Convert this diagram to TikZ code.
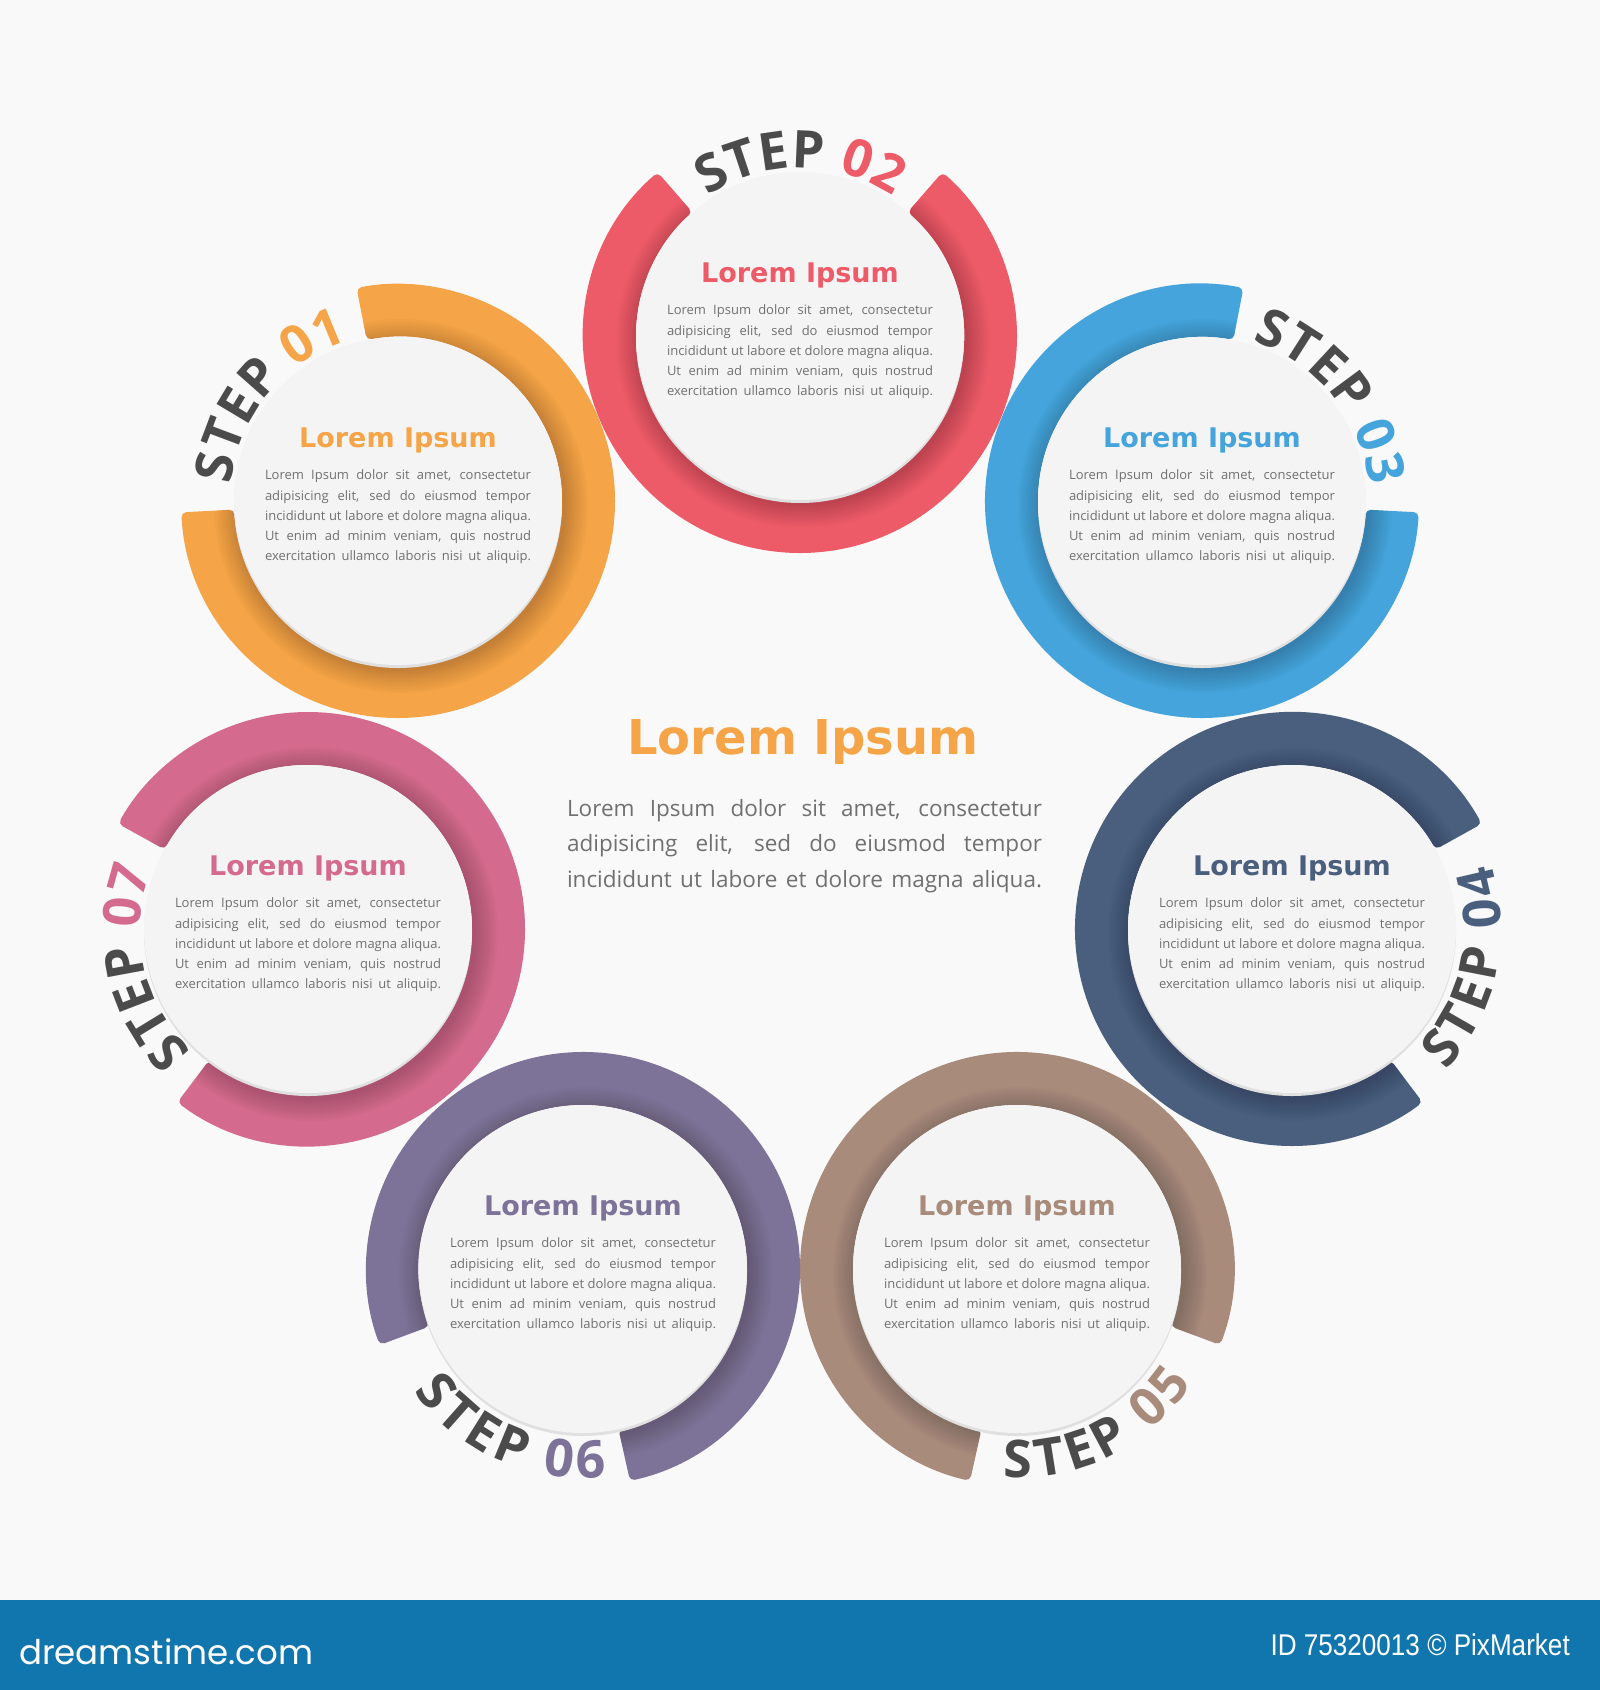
\documentclass[tikz,border=0pt]{standalone}
\usepackage{fontspec}
\setmainfont{Open Sans}
\newfontfamily\headfam{DejaVu Sans}
\newfontfamily\stepfam{Open Sans}
\newfontfamily\banfam{Liberation Sans}
\newfontfamily\logofam{Poppins}
\usetikzlibrary{calc,decorations.text}
\definecolor{bgc}{HTML}{F9F9F9}
\definecolor{diskc}{HTML}{F4F4F4}
\definecolor{stepgray}{HTML}{4B4B4B}
\definecolor{bodygray}{HTML}{707070}
\definecolor{banblue}{HTML}{1176AE}
\definecolor{cOrange}{HTML}{F5A447}
\definecolor{cRed}{HTML}{EE5B68}
\definecolor{cBlue}{HTML}{45A4DB}
\definecolor{cNavy}{HTML}{4A5F7D}
\definecolor{cBrown}{HTML}{A88B7B}
\definecolor{cPurple}{HTML}{7D7399}
\definecolor{cPink}{HTML}{D46A8D}
\newcommand\stepfmt{\stepfam\bfseries\fontsize{52}{60}\selectfont}
\newcommand\bodylines{%
\makebox[266pt][s]{Lorem Ipsum dolor sit amet, consectetur}\\
\makebox[266pt][s]{adipisicing elit, sed do eiusmod tempor}\\
\makebox[266pt][s]{incididunt ut labore et dolore magna aliqua.}\\
\makebox[266pt][s]{Ut enim ad minim veniam, quis nostrud}\\
\makebox[266pt][s]{exercitation ullamco laboris nisi ut aliquip.}}
\tikzset{
  headtext/.style={font=\headfam\bfseries\fontsize{27}{32}\selectfont, inner sep=0pt},
  bodytext/.style={font=\fontsize{13}{20.2}\selectfont, text=bodygray, align=center, inner sep=0pt},
}
% #1 name, #2 x, #3 y, #4 colour, #5 gap centre angle, #6 number, #7 1=clockwise text, #8 text centre angle
\newcommand\StepRing[8]{%
  \coordinate (#1) at (#2,#3);
  \pgfmathsetmacro\ringA{#5+41}%
  \pgfmathsetmacro\ringB{#5+319}%
  \fill[#4, rounded corners=5pt] ($(#1)+(\ringA:217)$) arc[start angle=\ringA, end angle=\ringB, radius=217]
     -- ($(#1)+(\ringB:164)$) arc[start angle=\ringB, end angle=\ringA, radius=164] -- cycle;
  \begin{scope}
    \clip[rounded corners=5pt] ($(#1)+(\ringA:217)$) arc[start angle=\ringA, end angle=\ringB, radius=217]
     -- ($(#1)+(\ringB:164)$) arc[start angle=\ringB, end angle=\ringA, radius=164] -- cycle;
    \foreach \k in {0,...,11} {\fill[black, opacity=0.015] ($(#1)+(3,-5)$) circle ({165+2*\k});}
  \end{scope}
  \fill[black!12] ($(#1)+(0,-3)$) circle (164);
  \fill[diskc] (#1) circle (164);
  \ifnum#7=1
    \path[decorate, decoration={text along path, text align=center,
      text={|\stepfmt\color{stepgray}\kern0.6pt|STEP |\stepfmt\color{#4}\kern0.6pt|#6}}]
      ($(#1)+(#8+45:168)$) arc[start angle=#8+45, end angle=#8-45, radius=168];
  \else
    \path[decorate, decoration={text along path, text align=center,
      text={|\stepfmt\color{stepgray}\kern4.5pt|STEP |\stepfmt\color{#4}\kern4.5pt|#6}}]
      ($(#1)+(#8-47:209)$) arc[start angle=#8-47, end angle=#8+47, radius=209];
  \fi
  \node[headtext, text=#4] (#1h) at ($(#1)+(0,61)$) {Lorem Ipsum};
  \node[bodytext] (#1b) at ($(#1)+(0,-16)$) {\bodylines};
}
\begin{document}
\begin{tikzpicture}[x=1pt,y=1pt]
\useasboundingbox (0,0) rectangle (1600,-1690);
\fill[bgc] (0,0) rectangle (1600,-1690);

\StepRing{s1}{398}{-501}{cOrange}{142}{01}{1}{141}
\StepRing{s2}{800}{-336}{cRed}{90}{02}{1}{90}
\StepRing{s3}{1202}{-501}{cBlue}{38}{03}{1}{39}
\StepRing{s4}{1292}{-929}{cNavy}{-12}{04}{0}{-13}
\StepRing{s5}{1017}{-1269}{cBrown}{-61.5}{05}{0}{-64}
\StepRing{s6}{583}{-1269}{cPurple}{-118.5}{06}{0}{-114.5}
\StepRing{s7}{308}{-929}{cPink}{192}{07}{1}{193}

\node[font=\headfam\bfseries\fontsize{48}{56}\selectfont, text=cOrange, inner sep=0pt] (title) at (803,-742) {Lorem Ipsum};
\node[font=\fontsize{22.5}{35.6}\selectfont, text=bodygray, align=center, inner sep=0pt] (intro) at (804.5,-846)
 {\makebox[475pt][s]{Lorem Ipsum dolor sit amet, consectetur}\\
  \makebox[475pt][s]{adipisicing elit, sed do eiusmod tempor}\\
  \makebox[475pt][s]{incididunt ut labore et dolore magna aliqua.}};

\fill[banblue] (0,-1600) rectangle (1600,-1690);
\node[text=white, font=\logofam\fontsize{34}{40}\selectfont, anchor=west, inner sep=0pt] (logo) at (19,-1652) {dreamstime.com};
\node[text=white, font=\banfam\fontsize{30}{36}\selectfont, anchor=east, inner sep=0pt] (credit) at (1570,-1645) {\scalebox{0.87}[1]{ID 75320013 © PixMarket}};
\end{tikzpicture}
\end{document}
